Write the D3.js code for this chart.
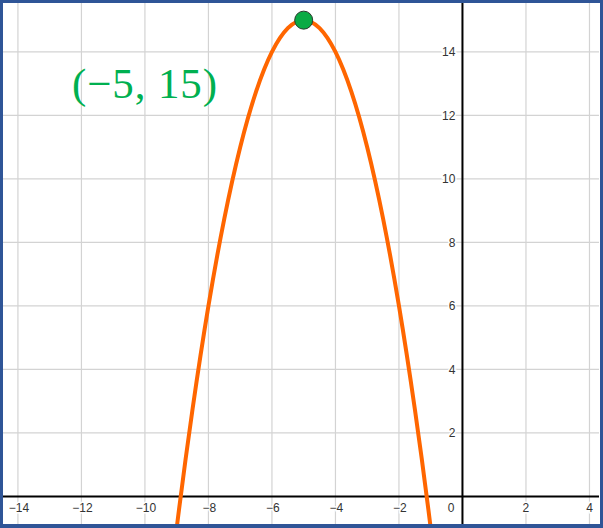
<!DOCTYPE html>
<html>
<head>
<meta charset="utf-8">
<script src="https://cdn.jsdelivr.net/npm/d3@7"></script>
<style>
html, body { margin: 0; padding: 0; background: #fff; }
svg { display: block; }
</style>
</head>
<body>
<svg id="chart" width="603" height="528"></svg>
<script>
// ---- data ----
const xDomain = [-14.47, 4.3];
const yDomain = [-0.87, 15.54];
const xTicks = [-14, -12, -10, -8, -6, -4, -2, 2, 4];
const yTicks = [2, 4, 6, 8, 10, 12, 14];
const curveX = [-9.5, -9, -8.5, -8, -7.5, -7, -6.5, -6, -5.5, -5, -4.5, -4, -3.5, -3, -2.5, -2, -1.5, -1, -0.5];
const curveY = [-5.25, -1, 2.75, 6, 8.75, 11, 12.75, 14, 14.75, 15, 14.75, 14, 12.75, 11, 8.75, 6, 2.75, -1, -5.25];
const vertex = [-5, 15];
const vertexLabel = "(\u22125, 15)";

// ---- layout ----
const W = 603, H = 528;
const pLeft = 3, pRight = 599, pTop = 3, pBottom = 524;
const svg = d3.select("#chart");

const x = d3.scaleLinear().domain(xDomain).range([pLeft, pRight]);
const y = d3.scaleLinear().domain(yDomain).range([pBottom, pTop]);

svg.append("rect").attr("width", W).attr("height", H).attr("fill", "#fff");

svg.append("clipPath").attr("id", "plot")
  .append("rect").attr("x", pLeft).attr("y", pTop)
  .attr("width", pRight - pLeft).attr("height", pBottom - pTop);

const g = svg.append("g").attr("clip-path", "url(#plot)");

// grid
const gridX = d3.range(-14, 5, 2);
const gridY = d3.range(2, 16, 2);
g.append("g").selectAll("line").data(gridX).join("line")
  .attr("x1", d => x(d)).attr("x2", d => x(d))
  .attr("y1", pTop).attr("y2", pBottom)
  .attr("stroke", "#d3d3d3").attr("stroke-width", 1.2);
g.append("g").selectAll("line").data(gridY).join("line")
  .attr("y1", d => y(d)).attr("y2", d => y(d))
  .attr("x1", pLeft).attr("x2", pRight)
  .attr("stroke", "#d3d3d3").attr("stroke-width", 1.2);

// tick labels
const labelStyle = sel => sel
  .attr("font-family", "Liberation Sans, Arial, sans-serif")
  .attr("font-size", 12)
  .attr("fill", "#333")
  .attr("stroke", "#fff").attr("stroke-width", 3)
  .attr("paint-order", "stroke");

g.append("g").selectAll("text").data(xTicks).join("text")
  .attr("x", d => x(d) + (d < 0 ? 1 : 0)).attr("y", y(0) + 16)
  .attr("text-anchor", "middle")
  .text(d => d < 0 ? "\u2212" + Math.abs(d) : d)
  .call(labelStyle);

g.append("text")
  .attr("x", x(0) - 8).attr("y", y(0) + 16)
  .attr("text-anchor", "end")
  .text("0").call(labelStyle);

g.append("g").selectAll("text").data(yTicks).join("text")
  .attr("x", x(0) - 7).attr("y", d => y(d)).attr("dy", "0.36em")
  .attr("text-anchor", "end")
  .text(d => d)
  .call(labelStyle);

// axes
g.append("line")
  .attr("x1", pLeft).attr("x2", pRight).attr("y1", y(0)).attr("y2", y(0))
  .attr("stroke", "#000").attr("stroke-width", 2);
g.append("line")
  .attr("x1", x(0)).attr("x2", x(0)).attr("y1", pTop).attr("y2", pBottom)
  .attr("stroke", "#000").attr("stroke-width", 2);

// curve
const pts = curveX.map((d, i) => [d, curveY[i]]);
const line = d3.line().x(d => x(d[0])).y(d => y(d[1])).curve(d3.curveNatural);
g.append("path").datum(pts)
  .attr("d", line)
  .attr("fill", "none")
  .attr("stroke", "#ff6600")
  .attr("stroke-width", 4)
  .attr("stroke-linecap", "round");

// vertex
g.append("circle")
  .attr("cx", x(vertex[0])).attr("cy", y(vertex[1])).attr("r", 9)
  .attr("fill", "#0aab45").attr("stroke", "#2b3a2f").attr("stroke-width", 1);

// vertex label
g.append("text")
  .attr("x", 72).attr("y", 98)
  .attr("font-family", "Liberation Serif, 'Times New Roman', serif")
  .attr("font-size", 43)
  .attr("fill", "#00b050")
  .attr("textLength", 145).attr("lengthAdjust", "spacing")
  .text(vertexLabel);

// border
svg.append("rect")
  .attr("x", 1.5).attr("y", 1.5).attr("width", W - 3).attr("height", H - 4)
  .attr("fill", "none").attr("stroke", "#2f5597").attr("stroke-width", 3);
svg.append("line")
  .attr("x1", 0).attr("x2", W).attr("y1", H - 2).attr("y2", H - 2)
  .attr("stroke", "#2f5597").attr("stroke-width", 4);
</script>
</body>
</html>
